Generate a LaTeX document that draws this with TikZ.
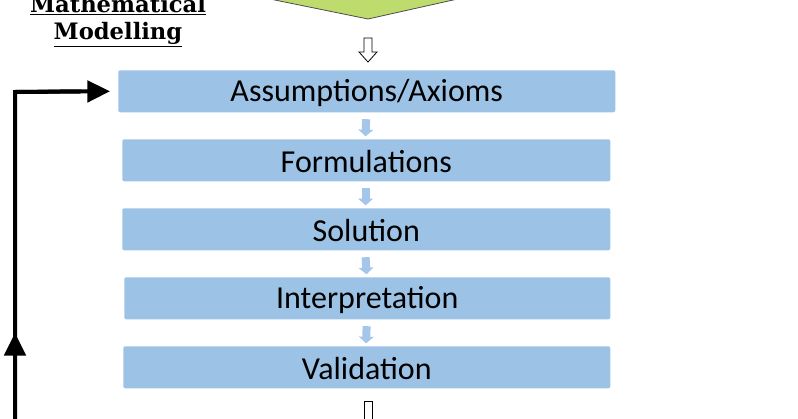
\documentclass[tikz,border=0pt]{standalone}
\usepackage{fontspec}
\setmainfont{Carlito}
\newfontfamily\serifb{DejaVu Serif}
\usetikzlibrary{arrows.meta}
\begin{document}
\begin{tikzpicture}[x=0.75pt,y=-0.75pt,
  box/.style={draw=none,rounded corners=1.5pt,anchor=north west,inner sep=0pt},
  lbl/.style={font=\fontsize{24}{28}\selectfont},
  hollow/.style={draw=black,fill=white,line width=0.6pt}]
\definecolor{boxc}{RGB}{156,195,230}
\definecolor{arrc}{RGB}{165,198,235}
\definecolor{grn}{RGB}{190,220,110}
\useasboundingbox (0,0) rectangle (798,418);
\begin{scope}
\clip (0,0) rectangle (798,418);
\draw[fill=grn,draw=black!70,line width=0.6pt] (265,-30) -- (265,-2) -- (368,19) -- (462,-2) -- (462,-30) -- cycle;
\end{scope}
\node[font=\serifb\bfseries\fontsize{17}{20}\selectfont,align=center] (title) at (118,21) {\underline{Mathematical}\\\underline{Modelling}};
\foreach \n/\x/\y/\w/\t in {a/118/70/497/{Assumptions/Axioms},f/122/139/488/Formulations,s/122/208/488/Solution,i/124/277/486/Interpretation,v/123/346/487/Validation}{
  \node[box,fill=boxc,minimum width=\w*0.75pt,minimum height=31.5pt] (\n) at (\x,\y) {};
  \node[lbl] at ([yshift=-1pt]\n.center) {\t};
}
\foreach \p/\q in {a/f,f/s,s/i,i/v}{
  \draw[line width=6pt,draw=arrc,-{Triangle[width=11pt,length=5pt]}] ([xshift=-0.5pt,yshift=-5pt]\p.south) -- ([xshift=-0.5pt,yshift=2pt]\q.north);
}
\draw[hollow] (364,38) -- (372,38) -- (372,52) -- (377,52) -- (368,62) -- (359,52) -- (364,52) -- cycle;
\draw[hollow] (364,401) -- (372,401) -- (372,425) -- (364,425) -- cycle;
\coordinate (lb) at (15,430);
\coordinate (lt) at (15,92);
\draw[line width=3pt] (lb) -- (lt) -- ([xshift=-28pt]a.west);
\draw[line width=3pt,-{Triangle[width=16pt,length=17pt]}] (lt) -- ([xshift=-6pt]a.west);
\draw[-{Triangle[width=16pt,length=17pt]},line width=3pt] (lb) -- (15,333);
\end{tikzpicture}
\end{document}
